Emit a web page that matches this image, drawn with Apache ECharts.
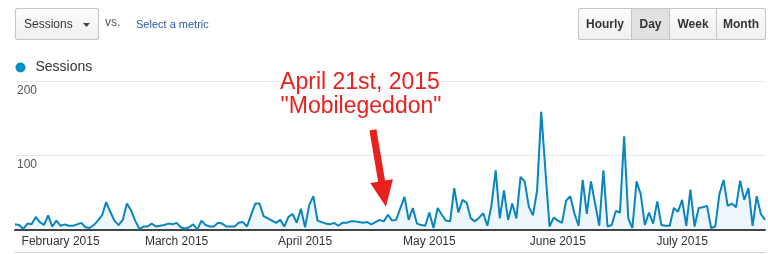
<!DOCTYPE html>
<html>
<head>
<meta charset="utf-8">
<script src="https://cdn.jsdelivr.net/npm/echarts@6/dist/echarts.min.js"></script>
<style>
html,body{margin:0;padding:0;background:#fff;}
#chart{width:768px;height:254px;}
</style>
</head>
<body>
<div id="chart"></div>
<script>
// ---- data ----
const startDate = '2015-01-21';
const dayCount = 182;
const monthNames = ['January','February','March','April','May','June','July','August','September','October','November','December'];
const sessions = [
  7, 6, 1, 8, 7, 17, 10, 6, 19, 4,
  12, 5, 7, 5, 5, 7, 9, 3, 2, 6,
  12, 19, 37, 24, 12, 6, 13, 35, 26, 12,
  1, 4, 4, 8, 4, 5, 6, 8, 7, 9,
  3, 1, 3, 7, 0, 12, 6, 4, 4, 9,
  8, 4, 4, 4, 9, 10, 4, 20, 35, 35,
  18, 15, 12, 9, 13, 4, 17, 21, 9, 28,
  3, 33, 45, 12, 10, 8, 7, 9, 5, 9,
  9, 11, 11, 10, 9, 10, 7, 10, 13, 11,
  20, 12, 13, 29, 44, 13, 29, 8, 6, 5,
  23, 2, 29, 20, 12, 11, 56, 23, 40, 36,
  15, 11, 16, 22, 5, 33, 80, 15, 53, 13,
  35, 15, 71, 65, 31, 19, 53, 159, 80, 4,
  16, 12, 9, 39, 45, 22, 5, 67, 21, 65,
  35, 5, 80, 4, 6, 25, 23, 126, 15, 2,
  65, 48, 6, 23, 8, 38, 6, 5, 5, 29,
  24, 40, 5, 54, 4, 29, 30, 32, 2, 4,
  48, 67, 32, 35, 30, 66, 40, 56, 5, 45,
  21, 13
];
const yTicks = [0, 100, 200];
const buttons = ['Hourly', 'Day', 'Week', 'Month'];
const annotationIndex = 90; // April 21st, 2015
const annotationLines = ['April 21st, 2015', '"Mobilegeddon"'];

// build categories (dates)
const categories = [];
{
  const d0 = new Date(startDate + 'T00:00:00Z');
  for (let i = 0; i < dayCount; i++) {
    const d = new Date(d0.getTime() + i * 86400000);
    categories.push(d.toISOString().slice(0, 10));
  }
}
function isMonthStart(v) { return v.slice(8, 10) === '01'; }
function monthLabel(v) {
  const m = parseInt(v.slice(5, 7), 10) - 1;
  return monthNames[m] + ' ' + v.slice(0, 4);
}

const FONT = '"Liberation Sans", Arial, sans-serif';
const chart = echarts.init(document.getElementById('chart'), null, {renderer: 'canvas'});

function grad() {
  return new echarts.graphic.LinearGradient(0, 0, 0, 1, [
    {offset: 0, color: '#fdfdfd'}, {offset: 1, color: '#efefef'}
  ]);
}

// button group geometry
const btnEdges = [578.5, 631.5, 669.5, 716.5, 765.5];
const RED = '#e8201e';

const graphics = [
  // dropdown
  {type: 'rect', shape: {x: 15.5, y: 8.5, width: 83, height: 31, r: 2},
   style: {fill: grad(), stroke: '#c6c6c6', lineWidth: 1}},
  {type: 'text', x: 24, y: 25, style: {text: 'Sessions', font: '12px ' + FONT, fill: '#333', verticalAlign: 'middle'}},
  {type: 'polygon', shape: {points: [[83, 23], [90, 23], [86.5, 27]]}, style: {fill: '#444'}},
  {type: 'text', x: 105, y: 23, style: {text: 'vs.', font: '12px ' + FONT, fill: '#555', verticalAlign: 'middle'}},
  {type: 'text', x: 136, y: 25, style: {text: 'Select a metric', font: '11px ' + FONT, fill: '#2b5aa6', verticalAlign: 'middle'}},
  // button group
  {type: 'rect', shape: {x: btnEdges[0], y: 8.5, width: btnEdges[4] - btnEdges[0], height: 31, r: 2},
   style: {fill: grad(), stroke: '#c6c6c6', lineWidth: 1}},
  {type: 'rect', shape: {x: btnEdges[1], y: 9, width: btnEdges[2] - btnEdges[1], height: 30},
   style: {fill: '#e1e1e1'}},
];
for (let k = 1; k < 4; k++) {
  graphics.push({type: 'line', shape: {x1: btnEdges[k], y1: 9, x2: btnEdges[k], y2: 39},
    style: {stroke: '#c6c6c6', lineWidth: 1}});
}
buttons.forEach((b, k) => {
  graphics.push({type: 'text', x: (btnEdges[k] + btnEdges[k + 1]) / 2, y: 25,
    style: {text: b, font: 'bold 12px ' + FONT, fill: '#333', align: 'center', verticalAlign: 'middle'}});
});
// bottom separator
graphics.push({type: 'line', shape: {x1: 15, y1: 252.5, x2: 765, y2: 252.5}, style: {stroke: '#d0d0d0', lineWidth: 1}});
// annotation text (above the grid lines)
graphics.push({type: 'text', z: 100, x: 360, y: 83, style: {text: annotationLines[0], font: '23px ' + FONT, fill: RED, align: 'center', verticalAlign: 'middle', backgroundColor: '#fff'}});
graphics.push({type: 'text', z: 100, x: 361, y: 107, style: {text: annotationLines[1], font: '23px ' + FONT, fill: RED, align: 'center', verticalAlign: 'middle'}});

chart.setOption({
  animation: false,
  backgroundColor: '#fff',
  textStyle: {fontFamily: FONT},
  grid: {left: 15, right: 3, top: 81.5, bottom: 24.5, containLabel: false},
  legend: {
    data: ['Sessions'], left: 10.5, top: 55.5, icon: 'circle', itemWidth: 10, itemHeight: 10,
    textStyle: {fontSize: 14, color: '#333', padding: [0, 0, 0, 5]}
  },
  xAxis: {
    type: 'category', data: categories, boundaryGap: false,
    axisLine: {lineStyle: {color: '#444', width: 2}},
    axisTick: {show: false},
    axisLabel: {
      interval: (idx, v) => isMonthStart(v),
      formatter: v => monthLabel(v),
      color: '#333', fontSize: 12, margin: 6
    },
    splitLine: {show: false}
  },
  yAxis: {
    type: 'value', min: yTicks[0], max: yTicks[yTicks.length - 1], interval: 100,
    axisLine: {show: false}, axisTick: {show: false},
    axisLabel: {inside: true, margin: 2, verticalAlign: 'top', padding: [3, 0, 0, 0],
      color: '#555', fontSize: 12, formatter: v => (v === 0 ? '' : String(v))},
    splitLine: {lineStyle: {color: '#e8e8e8', width: 1}}
  },
  series: [{
    name: 'Sessions', type: 'line', data: sessions, showSymbol: false, symbol: 'circle',
    itemStyle: {color: '#058dc7'},
    lineStyle: {color: '#0a84bf', width: 2},
    areaStyle: {color: 'rgba(5,141,199,0.10)'}
  }],
  graphic: graphics
});

// arrow anchored at the annotated day
const p = chart.convertToPixel({seriesIndex: 0}, [annotationIndex, sessions[annotationIndex]]);
const T = [p[0] - 2, p[1] - 8];
const u = [0.167, 0.986], n = [0.986, -0.167];
const len = 78, headLen = 26, headHalf = 11.5, shaftHalf = 3.5;
const B = [T[0] - headLen * u[0], T[1] - headLen * u[1]];
const S = [T[0] - len * u[0], T[1] - len * u[1]];
const add = (a, k) => [a[0] + k * n[0], a[1] + k * n[1]];
chart.setOption({graphic: graphics.concat([{
  type: 'polygon', z: 100,
  shape: {points: [add(S, shaftHalf), add(B, shaftHalf), add(B, headHalf), T, add(B, -headHalf), add(B, -shaftHalf), add(S, -shaftHalf)]},
  style: {fill: RED}
}])});
</script>
</body>
</html>
